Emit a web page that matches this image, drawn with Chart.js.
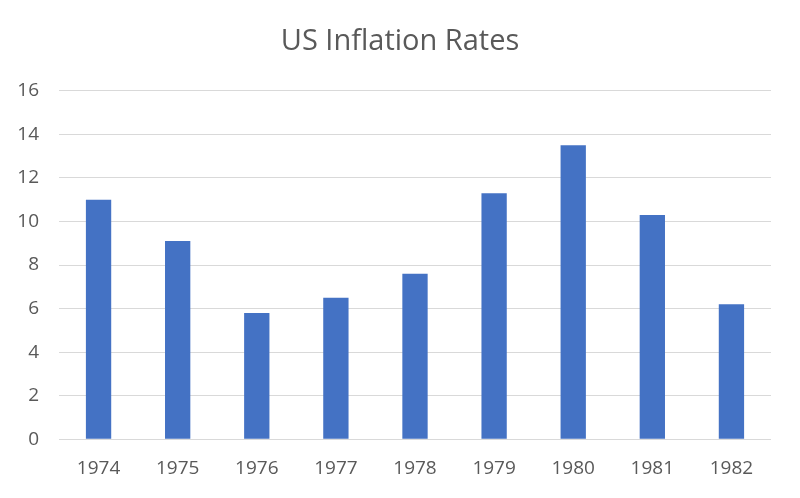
<!DOCTYPE html>
<html>
<head>
<meta charset="utf-8">
<script src="https://cdn.jsdelivr.net/npm/chart.js@4"></script>
<style>
  html, body { margin: 0; padding: 0; background: #fff; }
  #wrap { width: 800px; height: 498px; }
</style>
</head>
<body>
<div id="wrap"><canvas id="chart"></canvas></div>
<script>
// DATA
const years = ['1974', '1975', '1976', '1977', '1978', '1979', '1980', '1981', '1982'];
const inflation = [11.0, 9.1, 5.8, 6.5, 7.6, 11.3, 13.5, 10.3, 6.2];
const yTicks = [0, 2, 4, 6, 8, 10, 12, 14, 16];

const textColor = '#595959';
const fontFamily = '"Open Sans", "Liberation Sans", sans-serif';

// CHART
const chart = new Chart(document.getElementById('chart'), {
  type: 'bar',
  data: {
    labels: years,
    datasets: [{
      label: 'Inflation',
      data: inflation,
      backgroundColor: '#4472C4',
      barPercentage: 1,
      categoryPercentage: 0.32
    }]
  },
  options: {
    responsive: true,
    maintainAspectRatio: false,
    animation: false,
    layout: { padding: { left: 0, right: 0, top: 24, bottom: 8 } },
    plugins: {
      legend: { display: false },
      tooltip: { enabled: false },
      title: {
        display: true,
        text: 'US Inflation Rates',
        color: textColor,
        font: { family: fontFamily, size: 29, weight: 'normal' },
        padding: { top: 0, bottom: 32 }
      }
    },
    scales: {
      x: {
        grid: { display: false },
        border: { display: false },
        ticks: { color: textColor, font: { family: fontFamily, size: 19 }, padding: 10 }
      },
      y: {
        min: 0,
        max: 16,
        afterBuildTicks: axis => { axis.ticks = yTicks.map(v => ({ value: v })); },
        afterFit: axis => { axis.width = 59; },
        grid: { color: '#d9d9d9', lineWidth: 1, drawTicks: false },
        border: { display: false },
        ticks: { color: textColor, font: { family: fontFamily, size: 19 }, padding: 20 }
      },
      // empty right-hand spacer so the title stays centred on the page
      spacer: {
        type: 'linear',
        position: 'right',
        min: 0,
        max: 16,
        afterFit: axis => { axis.width = 29; },
        grid: { display: false },
        border: { display: false },
        ticks: { display: false }
      }
    }
  }
});
</script>
</body>
</html>
